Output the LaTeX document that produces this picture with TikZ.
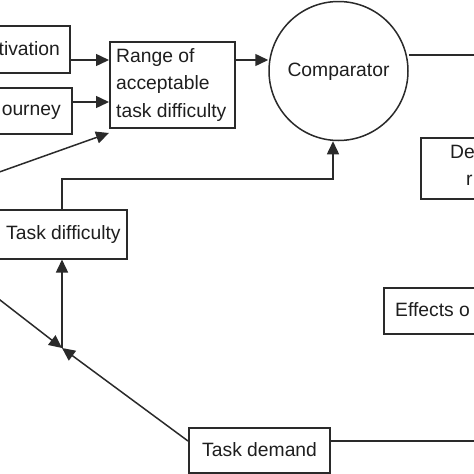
\documentclass[tikz,border=0pt]{standalone}
\usepackage{fontspec}
\setmainfont{Liberation Sans}
\usetikzlibrary{arrows.meta}
\definecolor{ln}{HTML}{2A2A2A}
\definecolor{tx}{HTML}{1E1E1E}
\begin{document}
\begin{tikzpicture}[x=1pt,y=-1pt,
  box/.style={draw=ln,line width=1.5pt,rectangle,inner sep=0pt,anchor=north west},
  lbl/.style={text=tx,inner sep=0pt,font=\fontsize{19.3}{23}\selectfont},
  con/.style={draw=ln,line width=1.5pt},
  arr/.style={con,-{Triangle[length=13pt,width=12pt]}}]
\useasboundingbox (0,0) rectangle (474,474);
\clip (0,0) rectangle (474,474);
% boxes
\node[box,minimum width=129pt,minimum height=47pt] (mot) at (-60,25) {};
\node[box,minimum width=131pt,minimum height=46pt] (jou) at (-60,87) {};
\node[box,minimum width=125pt,minimum height=86pt] (range) at (109,41) {};
\node[draw=ln,line width=1.5pt,circle,minimum size=139pt,inner sep=0pt] (comp) at (338.5,71) {};
\node[box,minimum width=100pt,minimum height=61pt] (de) at (420,137) {};
\node[box,minimum width=128pt,minimum height=49pt] (td) at (-2,209) {};
\node[box,minimum width=180pt,minimum height=46pt] (eff) at (383,287) {};
\node[box,minimum width=141pt,minimum height=45pt] (dem) at (188,427) {};
% texts
\node[lbl,anchor=base east] (motT) at (60,55) {tivation};
\node[lbl,anchor=base east] (jouT) at (61,115) {ourney};
\node[lbl,anchor=base west] (r1) at (116,62) {Range of};
\node[lbl,anchor=base west] (r2) at (116,89) {acceptable};
\node[lbl,anchor=base west] (r3) at (116,117) {task difficulty};
\node[lbl,anchor=base] (compT) at (338.5,76) {Comparator};
\node[lbl,anchor=base west] (deT1) at (450,158) {De};
\node[lbl,anchor=base west] (deT2) at (466,185) {r};
\node[lbl,anchor=base west] (tdT) at (6,239) {Task difficulty};
\node[lbl,anchor=base west] (effT) at (395,316) {Effects o};
\node[lbl,anchor=base west] (demT) at (202,456) {Task demand};
% free ends
\coordinate (J) at (62,348);
\coordinate (leftA) at (-40,186);
\coordinate (leftB) at (-40,269);
\coordinate (compR) at (480,55);
\coordinate (demR) at (480,441);
% connectors
\draw[arr] (mot.east |- 0,60) -- (range.west |- 0,60);
\draw[arr] (jou.east |- 0,102) -- (range.west |- 0,102);
\draw[arr] (leftA) -- (109,133);
\draw[arr] (range.east |- 0,60) -- (comp.west |- 0,60);
\draw[con] (comp.east |- 0,55) -- (compR);
\draw[arr] (td.north -| 62,0) |- (333,179) -- (comp.south -| 333,0);
\draw[arr] (J) -- (td.south -| 62,0);
\draw[arr] (leftB) -- (J);
\draw[arr] (dem.west |- 0,441) -- (J);
\draw[con] (dem.east |- 0,441) -- (demR);
\end{tikzpicture}
\end{document}
